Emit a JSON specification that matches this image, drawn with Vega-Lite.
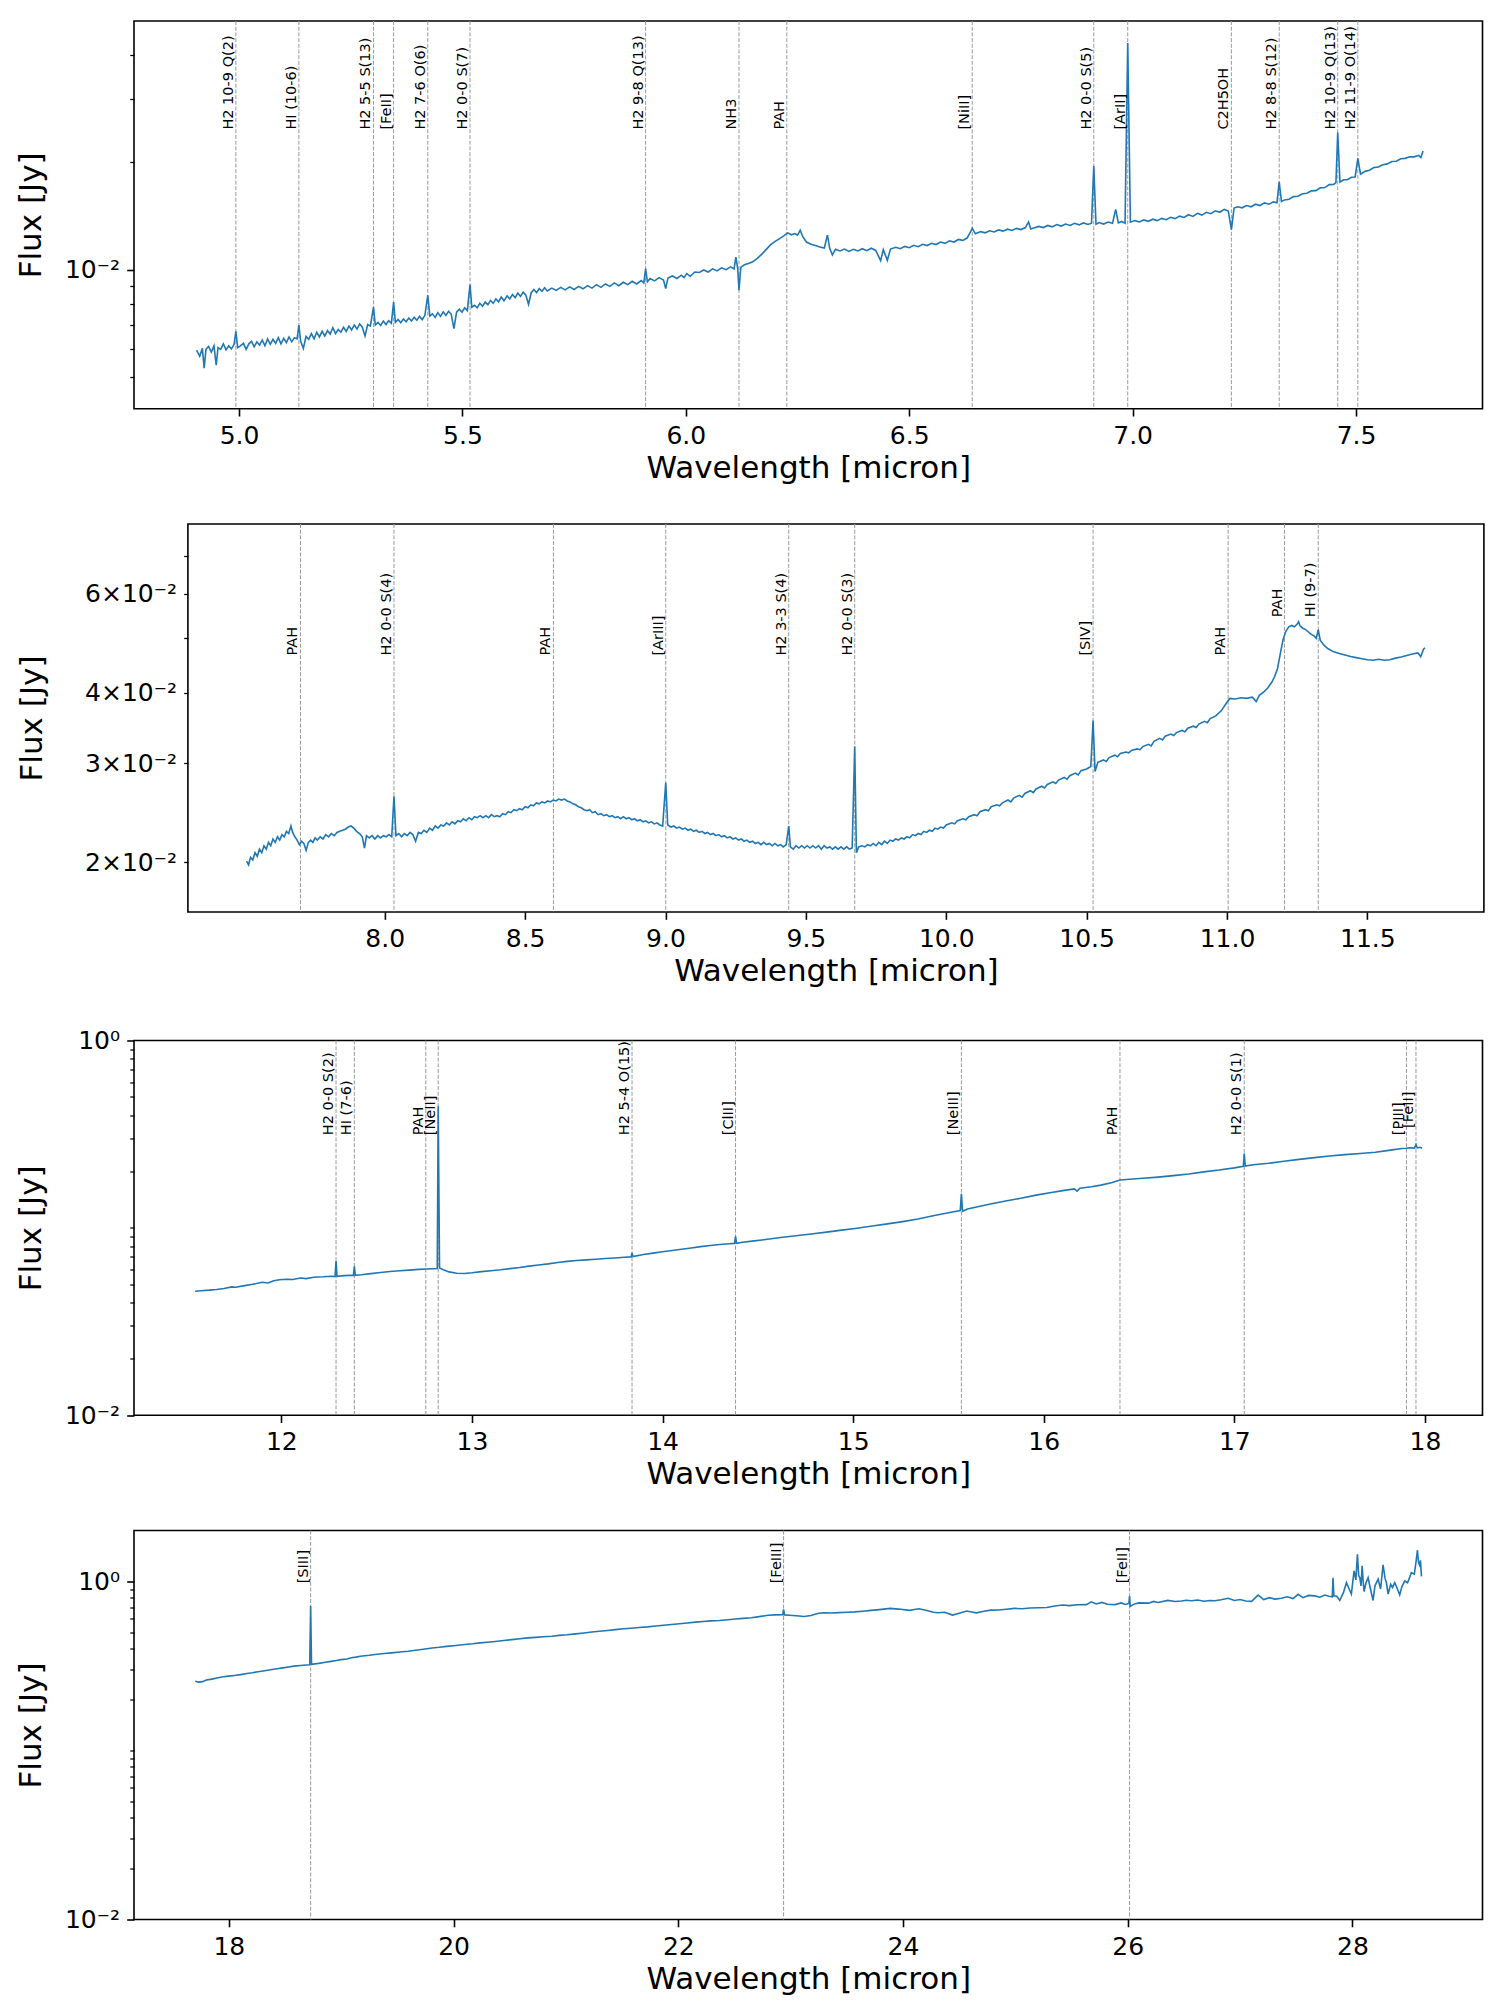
{
  "$schema": "https://vega.github.io/schema/vega-lite/v6.json",
  "background": "white",
  "padding": {"left": 14, "top": 19, "right": 5, "bottom": 5},
  "spacing": 39.5,
  "config": {
    "font": "DejaVu Sans",
    "view": {"stroke": "black", "strokeWidth": 1.6},
    "axis": {
      "domain": false, "grid": false,
      "labelFont": "DejaVu Sans", "titleFont": "DejaVu Sans",
      "labelFontSize": 25, "titleFontSize": 31, "titleFontWeight": "normal",
      "labelColor": "black", "titleColor": "black",
      "tickColor": "black", "tickWidth": 1.6, "tickSize": 7.3,
      "labelPadding": 7.2, "labelOverlap": false, "labelFlush": false
    },
    "axisX": {"titlePadding": 5},
    "axisY": {"titlePadding": 10}
  },
  "datasets": {
    "p1": [
      {"w":4.905,"f":0.00595},{"w":4.912,"f":0.00572},{"w":4.918,"f":0.00602},{"w":4.922,"f":0.0053},{"w":4.926,"f":0.00598},{"w":4.932,"f":0.0061},{"w":4.938,"f":0.00588},{"w":4.944,"f":0.00612},{"w":4.949,"f":0.0054},{"w":4.953,"f":0.00605},{"w":4.959,"f":0.00598},{"w":4.965,"f":0.0062},{"w":4.971,"f":0.00596},{"w":4.977,"f":0.00612},{"w":4.983,"f":0.006},{"w":4.989,"f":0.00618},{"w":4.993,"f":0.00672},{"w":4.997,"f":0.00605},
      {"w":5.003,"f":0.00612},{"w":5.01,"f":0.00622},{"w":5.016,"f":0.00598},{"w":5.022,"f":0.0062},{"w":5.028,"f":0.0063},{"w":5.034,"f":0.00608},{"w":5.04,"f":0.00628},{"w":5.046,"f":0.00615},{"w":5.052,"f":0.00635},{"w":5.058,"f":0.00612},{"w":5.064,"f":0.0064},{"w":5.07,"f":0.00618},{"w":5.076,"f":0.00638},{"w":5.082,"f":0.00622},{"w":5.088,"f":0.00645},{"w":5.094,"f":0.0062},{"w":5.1,"f":0.00642},{"w":5.106,"f":0.00625},{"w":5.112,"f":0.00648},{"w":5.118,"f":0.00628},{"w":5.124,"f":0.00645},{"w":5.13,"f":0.0064},{"w":5.134,"f":0.007},{"w":5.138,"f":0.0063},{"w":5.144,"f":0.00602},{"w":5.15,"f":0.0065},{"w":5.156,"f":0.00638},{"w":5.162,"f":0.00662},{"w":5.168,"f":0.0064},{"w":5.174,"f":0.00668},{"w":5.18,"f":0.00648},{"w":5.186,"f":0.00672},{"w":5.192,"f":0.00652},{"w":5.198,"f":0.00675},
      {"w":5.204,"f":0.0066},{"w":5.21,"f":0.00688},{"w":5.216,"f":0.00662},{"w":5.222,"f":0.0068},{"w":5.228,"f":0.00668},{"w":5.234,"f":0.0069},{"w":5.24,"f":0.00672},{"w":5.246,"f":0.00695},{"w":5.252,"f":0.00678},{"w":5.258,"f":0.007},{"w":5.264,"f":0.00682},{"w":5.27,"f":0.00705},{"w":5.276,"f":0.0069},{"w":5.282,"f":0.00652},{"w":5.288,"f":0.00702},{"w":5.294,"f":0.00695},{"w":5.301,"f":0.00786},{"w":5.305,"f":0.007},{"w":5.311,"f":0.00712},{"w":5.317,"f":0.00698},{"w":5.323,"f":0.00718},{"w":5.329,"f":0.00702},{"w":5.335,"f":0.0072},{"w":5.341,"f":0.00708},{"w":5.346,"f":0.00812},{"w":5.35,"f":0.00712},{"w":5.356,"f":0.00725},{"w":5.362,"f":0.0071},{"w":5.368,"f":0.00728},{"w":5.374,"f":0.00715},{"w":5.38,"f":0.00732},{"w":5.386,"f":0.00718},{"w":5.392,"f":0.00736},{"w":5.398,"f":0.00722},
      {"w":5.404,"f":0.0074},{"w":5.41,"f":0.00725},{"w":5.416,"f":0.00745},{"w":5.4225,"f":0.00848},{"w":5.427,"f":0.00742},{"w":5.433,"f":0.00752},{"w":5.439,"f":0.00735},{"w":5.445,"f":0.00758},{"w":5.451,"f":0.0074},{"w":5.457,"f":0.00762},{"w":5.463,"f":0.00745},{"w":5.469,"f":0.00765},{"w":5.475,"f":0.0075},{"w":5.481,"f":0.00684},{"w":5.487,"f":0.0076},{"w":5.493,"f":0.00775},{"w":5.499,"f":0.0076},{"w":5.505,"f":0.00782},{"w":5.511,"f":0.00768},{"w":5.517,"f":0.00908},{"w":5.521,"f":0.00785},{"w":5.527,"f":0.00795},{"w":5.533,"f":0.00782},{"w":5.539,"f":0.00805},{"w":5.545,"f":0.0079},{"w":5.551,"f":0.00812},{"w":5.557,"f":0.00798},{"w":5.563,"f":0.0082},{"w":5.569,"f":0.00805},{"w":5.575,"f":0.00828},{"w":5.581,"f":0.00812},{"w":5.587,"f":0.00838},{"w":5.593,"f":0.00818},
      {"w":5.6,"f":0.00845},{"w":5.606,"f":0.00828},{"w":5.612,"f":0.00852},{"w":5.618,"f":0.00835},{"w":5.624,"f":0.0086},{"w":5.63,"f":0.00842},{"w":5.636,"f":0.00865},{"w":5.642,"f":0.00848},{"w":5.648,"f":0.008},{"w":5.654,"f":0.00862},{"w":5.66,"f":0.0088},{"w":5.666,"f":0.00862},{"w":5.672,"f":0.00885},{"w":5.678,"f":0.0087},{"w":5.684,"f":0.0089},{"w":5.69,"f":0.00872},{"w":5.7,"f":0.00888},{"w":5.71,"f":0.00875},{"w":5.72,"f":0.00892},{"w":5.73,"f":0.00878},{"w":5.74,"f":0.00895},{"w":5.75,"f":0.0088},{"w":5.76,"f":0.00898},{"w":5.77,"f":0.00884},{"w":5.78,"f":0.00902},{"w":5.79,"f":0.00888},
      {"w":5.8,"f":0.00908},{"w":5.81,"f":0.00892},{"w":5.82,"f":0.00912},{"w":5.83,"f":0.00898},{"w":5.84,"f":0.00918},{"w":5.85,"f":0.00902},{"w":5.86,"f":0.00922},{"w":5.87,"f":0.00908},{"w":5.88,"f":0.00928},{"w":5.89,"f":0.00912},{"w":5.9,"f":0.00932},{"w":5.906,"f":0.00918},{"w":5.91,"f":0.01007},{"w":5.914,"f":0.00925},{"w":5.92,"f":0.00945},{"w":5.93,"f":0.0093},{"w":5.94,"f":0.0095},{"w":5.95,"f":0.00935},{"w":5.955,"f":0.00885},{"w":5.96,"f":0.00948},{"w":5.97,"f":0.0096},{"w":5.98,"f":0.00945},{"w":5.99,"f":0.00965},{"w":5.996,"f":0.0095},
      {"w":6.002,"f":0.00975},{"w":6.01,"f":0.00958},{"w":6.02,"f":0.00985},{"w":6.03,"f":0.00982},{"w":6.04,"f":0.00998},{"w":6.05,"f":0.00985},{"w":6.06,"f":0.01005},{"w":6.07,"f":0.00992},{"w":6.08,"f":0.01012},{"w":6.09,"f":0.01},{"w":6.1,"f":0.01018},{"w":6.108,"f":0.01005},{"w":6.112,"f":0.01085},{"w":6.116,"f":0.0101},{"w":6.119,"f":0.00876},{"w":6.123,"f":0.01015},{"w":6.131,"f":0.01032},{"w":6.14,"f":0.0104},{"w":6.15,"f":0.01052},{"w":6.16,"f":0.01075},{"w":6.17,"f":0.01105},{"w":6.18,"f":0.0114},{"w":6.19,"f":0.01175},
      {"w":6.2,"f":0.012},{"w":6.21,"f":0.01222},{"w":6.22,"f":0.01245},{"w":6.228,"f":0.01268},{"w":6.236,"f":0.01252},{"w":6.244,"f":0.01262},{"w":6.25,"f":0.0125},{"w":6.256,"f":0.0129},{"w":6.262,"f":0.01235},{"w":6.27,"f":0.01195},{"w":6.28,"f":0.01178},{"w":6.29,"f":0.01168},{"w":6.3,"f":0.01158},{"w":6.31,"f":0.0115},{"w":6.317,"f":0.0125},{"w":6.322,"f":0.01148},{"w":6.328,"f":0.011},{"w":6.335,"f":0.0114},{"w":6.345,"f":0.01128},{"w":6.355,"f":0.01142},{"w":6.365,"f":0.01125},{"w":6.375,"f":0.0114},{"w":6.385,"f":0.01128},{"w":6.395,"f":0.01145},
      {"w":6.405,"f":0.0113},{"w":6.415,"f":0.01148},{"w":6.425,"f":0.01132},{"w":6.436,"f":0.0106},{"w":6.442,"f":0.01138},{"w":6.451,"f":0.01062},{"w":6.458,"f":0.01142},{"w":6.47,"f":0.01155},{"w":6.48,"f":0.01145},{"w":6.49,"f":0.01162},{"w":6.5,"f":0.01152},{"w":6.51,"f":0.0117},{"w":6.52,"f":0.0116},{"w":6.53,"f":0.01178},{"w":6.54,"f":0.01168},{"w":6.55,"f":0.01185},{"w":6.56,"f":0.01176},{"w":6.57,"f":0.01195},{"w":6.58,"f":0.01185},{"w":6.59,"f":0.01205},
      {"w":6.6,"f":0.01195},{"w":6.61,"f":0.01215},{"w":6.62,"f":0.01208},{"w":6.63,"f":0.01228},{"w":6.641,"f":0.01305},{"w":6.648,"f":0.0126},{"w":6.66,"f":0.01278},{"w":6.67,"f":0.01268},{"w":6.68,"f":0.01285},{"w":6.69,"f":0.01275},{"w":6.7,"f":0.01292},{"w":6.71,"f":0.01282},{"w":6.72,"f":0.01298},{"w":6.73,"f":0.01288},{"w":6.74,"f":0.01305},{"w":6.75,"f":0.01295},{"w":6.76,"f":0.01312},{"w":6.767,"f":0.0136},{"w":6.772,"f":0.013},{"w":6.78,"f":0.0131},{"w":6.79,"f":0.01322},
      {"w":6.8,"f":0.01312},{"w":6.81,"f":0.0133},{"w":6.82,"f":0.01318},{"w":6.83,"f":0.01338},{"w":6.84,"f":0.01325},{"w":6.85,"f":0.01342},{"w":6.86,"f":0.0133},{"w":6.87,"f":0.01348},{"w":6.88,"f":0.01335},{"w":6.89,"f":0.01352},{"w":6.9,"f":0.01338},{"w":6.908,"f":0.0135},{"w":6.913,"f":0.0195},{"w":6.918,"f":0.0134},{"w":6.925,"f":0.01355},{"w":6.935,"f":0.01342},{"w":6.945,"f":0.0136},{"w":6.955,"f":0.01348},{"w":6.962,"f":0.01475},{"w":6.968,"f":0.01352},{"w":6.975,"f":0.01365},{"w":6.983,"f":0.0135},{"w":6.989,"f":0.0431},{"w":6.995,"f":0.01358},
      {"w":7.005,"f":0.01372},{"w":7.015,"f":0.0136},{"w":7.025,"f":0.01378},{"w":7.035,"f":0.01366},{"w":7.045,"f":0.01385},{"w":7.055,"f":0.01372},{"w":7.065,"f":0.01392},{"w":7.075,"f":0.0138},{"w":7.085,"f":0.01402},{"w":7.095,"f":0.0139},{"w":7.105,"f":0.01412},{"w":7.115,"f":0.014},{"w":7.125,"f":0.01425},{"w":7.135,"f":0.0141},{"w":7.145,"f":0.01438},{"w":7.155,"f":0.01422},{"w":7.165,"f":0.01448},{"w":7.175,"f":0.01435},{"w":7.185,"f":0.01462},{"w":7.195,"f":0.01448},
      {"w":7.205,"f":0.01475},{"w":7.214,"f":0.0146},{"w":7.221,"f":0.01295},{"w":7.227,"f":0.01488},{"w":7.235,"f":0.015},{"w":7.245,"f":0.0149},{"w":7.255,"f":0.01512},{"w":7.265,"f":0.015},{"w":7.275,"f":0.01525},{"w":7.285,"f":0.01512},{"w":7.295,"f":0.01538},{"w":7.305,"f":0.01525},{"w":7.315,"f":0.01548},{"w":7.323,"f":0.0154},{"w":7.328,"f":0.01761},{"w":7.333,"f":0.01552},{"w":7.34,"f":0.01568},{"w":7.35,"f":0.01575},{"w":7.36,"f":0.01602},{"w":7.37,"f":0.01605},{"w":7.38,"f":0.01632},{"w":7.39,"f":0.01636},
      {"w":7.4,"f":0.01662},{"w":7.41,"f":0.01665},{"w":7.42,"f":0.01695},{"w":7.43,"f":0.01698},{"w":7.44,"f":0.0173},{"w":7.45,"f":0.01732},{"w":7.455,"f":0.01752},{"w":7.459,"f":0.0242},{"w":7.464,"f":0.01758},{"w":7.472,"f":0.01785},{"w":7.48,"f":0.01786},{"w":7.49,"f":0.01815},{"w":7.498,"f":0.01818},{"w":7.504,"f":0.0205},{"w":7.51,"f":0.01852},{"w":7.52,"f":0.01885},{"w":7.53,"f":0.01898},{"w":7.54,"f":0.01932},{"w":7.55,"f":0.01938},{"w":7.56,"f":0.01968},{"w":7.57,"f":0.01978},{"w":7.58,"f":0.02008},{"w":7.59,"f":0.02012},
      {"w":7.6,"f":0.02045},{"w":7.61,"f":0.0205},{"w":7.62,"f":0.02072},{"w":7.63,"f":0.0207},{"w":7.64,"f":0.0209},{"w":7.645,"f":0.0206},{"w":7.65,"f":0.0215}
    ],
    "l1": [
      {"w":4.993,"f":0.02467,"t":"H2 10-9 Q(2)"},{"w":5.134,"f":0.02467,"t":"HI (10-6)"},{"w":5.301,"f":0.02467,"t":"H2 5-5 S(13)"},{"w":5.346,"f":0.02467,"t":"[FeII]"},{"w":5.4225,"f":0.02467,"t":"H2 7-6 O(6)"},{"w":5.517,"f":0.02467,"t":"H2 0-0 S(7)"},{"w":5.91,"f":0.02467,"t":"H2 9-8 Q(13)"},{"w":6.119,"f":0.02467,"t":"NH3"},{"w":6.226,"f":0.02467,"t":"PAH"},{"w":6.641,"f":0.02467,"t":"[NiII]"},{"w":6.913,"f":0.02467,"t":"H2 0-0 S(5)"},{"w":6.989,"f":0.02467,"t":"[ArII]"},{"w":7.221,"f":0.02467,"t":"C2H5OH"},{"w":7.328,"f":0.02467,"t":"H2 8-8 S(12)"},{"w":7.459,"f":0.02467,"t":"H2 10-9 Q(13)"},{"w":7.504,"f":0.02467,"t":"H2 11-9 O(14)"}
    ],
    "p2": [
      {"w":7.508,"f":0.0201},{"w":7.515,"f":0.0198},{"w":7.522,"f":0.0204},{"w":7.53,"f":0.0202},{"w":7.538,"f":0.0208},{"w":7.546,"f":0.0205},{"w":7.554,"f":0.0211},{"w":7.562,"f":0.0208},{"w":7.57,"f":0.0214},{"w":7.578,"f":0.0211},{"w":7.586,"f":0.0217},{"w":7.594,"f":0.0214},{"w":7.602,"f":0.022},{"w":7.61,"f":0.0217},{"w":7.618,"f":0.0222},{"w":7.626,"f":0.0219},{"w":7.634,"f":0.0224},{"w":7.642,"f":0.0222},{"w":7.65,"f":0.0227},{"w":7.658,"f":0.0225},{"w":7.666,"f":0.0232},{"w":7.672,"f":0.0226},{"w":7.68,"f":0.0222},{"w":7.688,"f":0.0219},{"w":7.696,"f":0.0215},
      {"w":7.704,"f":0.0218},{"w":7.712,"f":0.0216},{"w":7.72,"f":0.021},{"w":7.728,"f":0.0217},{"w":7.736,"f":0.0219},{"w":7.744,"f":0.0217},{"w":7.752,"f":0.0221},{"w":7.76,"f":0.0219},{"w":7.77,"f":0.0222},{"w":7.78,"f":0.022},{"w":7.79,"f":0.0224},{"w":7.8,"f":0.0222},{"w":7.81,"f":0.0225},{"w":7.82,"f":0.0223},{"w":7.83,"f":0.0226},{"w":7.84,"f":0.0227},{"w":7.85,"f":0.0228},{"w":7.86,"f":0.0229},{"w":7.87,"f":0.0231},{"w":7.88,"f":0.0232},{"w":7.89,"f":0.023},{"w":7.9,"f":0.0227},{"w":7.91,"f":0.0225},{"w":7.92,"f":0.0222},{"w":7.928,"f":0.0212},{"w":7.935,"f":0.0223},{"w":7.945,"f":0.0221},{"w":7.955,"f":0.0223},{"w":7.965,"f":0.022},{"w":7.975,"f":0.0223},{"w":7.985,"f":0.0221},{"w":7.995,"f":0.0223},
      {"w":8.005,"f":0.0222},{"w":8.015,"f":0.0224},{"w":8.025,"f":0.0222},{"w":8.033,"f":0.0262},{"w":8.04,"f":0.0223},{"w":8.05,"f":0.0225},{"w":8.06,"f":0.0222},{"w":8.07,"f":0.0225},{"w":8.08,"f":0.0223},{"w":8.09,"f":0.0226},{"w":8.1,"f":0.0224},{"w":8.11,"f":0.0218},{"w":8.12,"f":0.0226},{"w":8.13,"f":0.0225},{"w":8.14,"f":0.0228},{"w":8.15,"f":0.0226},{"w":8.16,"f":0.023},{"w":8.17,"f":0.0228},{"w":8.18,"f":0.0232},{"w":8.19,"f":0.023},{"w":8.2,"f":0.0233},{"w":8.21,"f":0.0232},{"w":8.22,"f":0.0235},{"w":8.23,"f":0.0233},{"w":8.24,"f":0.0236},{"w":8.25,"f":0.0234},{"w":8.26,"f":0.0237},{"w":8.27,"f":0.0236},{"w":8.28,"f":0.0239},{"w":8.29,"f":0.0237},
      {"w":8.3,"f":0.024},{"w":8.31,"f":0.0238},{"w":8.32,"f":0.0241},{"w":8.33,"f":0.024},{"w":8.34,"f":0.0242},{"w":8.35,"f":0.024},{"w":8.36,"f":0.0242},{"w":8.37,"f":0.024},{"w":8.38,"f":0.0243},{"w":8.39,"f":0.0241},{"w":8.4,"f":0.0242},{"w":8.41,"f":0.0241},{"w":8.42,"f":0.0244},{"w":8.43,"f":0.0243},{"w":8.44,"f":0.0246},{"w":8.45,"f":0.0245},{"w":8.46,"f":0.0248},{"w":8.47,"f":0.0247},{"w":8.48,"f":0.0249},{"w":8.49,"f":0.0248},{"w":8.5,"f":0.0251},{"w":8.51,"f":0.025},{"w":8.52,"f":0.0253},{"w":8.53,"f":0.0252},{"w":8.54,"f":0.0255},{"w":8.55,"f":0.0254},{"w":8.56,"f":0.0256},{"w":8.57,"f":0.0255},{"w":8.58,"f":0.0257},{"w":8.59,"f":0.0256},
      {"w":8.6,"f":0.0258},{"w":8.61,"f":0.0257},{"w":8.62,"f":0.0259},{"w":8.63,"f":0.0258},{"w":8.64,"f":0.0259},{"w":8.65,"f":0.0257},{"w":8.66,"f":0.0256},{"w":8.67,"f":0.0254},{"w":8.68,"f":0.0253},{"w":8.69,"f":0.0251},{"w":8.7,"f":0.025},{"w":8.71,"f":0.0248},{"w":8.72,"f":0.0247},{"w":8.73,"f":0.0248},{"w":8.74,"f":0.0245},{"w":8.75,"f":0.0246},{"w":8.76,"f":0.0243},{"w":8.77,"f":0.0244},{"w":8.78,"f":0.0242},{"w":8.79,"f":0.0243},{"w":8.8,"f":0.0241},{"w":8.81,"f":0.0242},{"w":8.82,"f":0.024},{"w":8.83,"f":0.0241},{"w":8.84,"f":0.0239},{"w":8.85,"f":0.0241},{"w":8.86,"f":0.0239},{"w":8.87,"f":0.024},{"w":8.88,"f":0.0238},{"w":8.89,"f":0.0239},
      {"w":8.9,"f":0.0237},{"w":8.91,"f":0.0238},{"w":8.92,"f":0.0236},{"w":8.93,"f":0.0237},{"w":8.94,"f":0.0235},{"w":8.95,"f":0.0236},{"w":8.96,"f":0.0234},{"w":8.97,"f":0.0235},{"w":8.98,"f":0.0233},{"w":8.99,"f":0.0232},{"w":9.001,"f":0.0277},{"w":9.008,"f":0.0233},{"w":9.02,"f":0.0231},{"w":9.03,"f":0.0232},{"w":9.04,"f":0.023},{"w":9.05,"f":0.0231},{"w":9.06,"f":0.0229},{"w":9.07,"f":0.023},{"w":9.08,"f":0.0228},{"w":9.09,"f":0.0229},{"w":9.1,"f":0.0227},{"w":9.11,"f":0.0228},{"w":9.12,"f":0.0226},{"w":9.13,"f":0.0227},{"w":9.14,"f":0.0225},{"w":9.15,"f":0.0226},{"w":9.16,"f":0.0224},{"w":9.17,"f":0.0225},{"w":9.18,"f":0.0223},{"w":9.19,"f":0.0224},
      {"w":9.2,"f":0.0222},{"w":9.21,"f":0.0223},{"w":9.22,"f":0.0221},{"w":9.23,"f":0.0222},{"w":9.24,"f":0.022},{"w":9.25,"f":0.0221},{"w":9.26,"f":0.0219},{"w":9.27,"f":0.022},{"w":9.28,"f":0.0218},{"w":9.29,"f":0.0219},{"w":9.3,"f":0.0217},{"w":9.31,"f":0.0218},{"w":9.32,"f":0.0216},{"w":9.33,"f":0.0217},{"w":9.34,"f":0.0215},{"w":9.35,"f":0.0217},{"w":9.36,"f":0.0215},{"w":9.37,"f":0.0216},{"w":9.38,"f":0.0214},{"w":9.39,"f":0.0216},{"w":9.4,"f":0.0214},{"w":9.41,"f":0.0215},{"w":9.42,"f":0.0213},{"w":9.43,"f":0.0215},{"w":9.439,"f":0.0232},{"w":9.445,"f":0.0213},{"w":9.455,"f":0.0211},{"w":9.465,"f":0.0214},{"w":9.475,"f":0.0212},{"w":9.485,"f":0.0214},{"w":9.495,"f":0.0212},
      {"w":9.505,"f":0.0214},{"w":9.515,"f":0.0212},{"w":9.525,"f":0.0214},{"w":9.535,"f":0.0212},{"w":9.545,"f":0.0214},{"w":9.555,"f":0.0211},{"w":9.565,"f":0.0214},{"w":9.575,"f":0.0212},{"w":9.585,"f":0.0213},{"w":9.595,"f":0.0211},{"w":9.605,"f":0.0213},{"w":9.615,"f":0.0211},{"w":9.625,"f":0.0213},{"w":9.635,"f":0.0211},{"w":9.645,"f":0.0213},{"w":9.655,"f":0.0211},{"w":9.665,"f":0.0212},{"w":9.674,"f":0.0321},{"w":9.68,"f":0.0208},{"w":9.688,"f":0.0213},{"w":9.7,"f":0.0214},{"w":9.71,"f":0.0213},{"w":9.72,"f":0.0215},{"w":9.73,"f":0.0214},{"w":9.74,"f":0.0216},{"w":9.75,"f":0.0214},{"w":9.76,"f":0.0217},{"w":9.77,"f":0.0215},{"w":9.78,"f":0.0218},{"w":9.79,"f":0.0216},
      {"w":9.8,"f":0.0219},{"w":9.81,"f":0.0218},{"w":9.82,"f":0.022},{"w":9.83,"f":0.0219},{"w":9.84,"f":0.0221},{"w":9.85,"f":0.022},{"w":9.86,"f":0.0222},{"w":9.87,"f":0.0221},{"w":9.88,"f":0.0224},{"w":9.89,"f":0.0223},{"w":9.9,"f":0.0225},{"w":9.91,"f":0.0224},{"w":9.92,"f":0.0227},{"w":9.93,"f":0.0226},{"w":9.94,"f":0.0228},{"w":9.95,"f":0.0227},{"w":9.96,"f":0.023},{"w":9.97,"f":0.0229},{"w":9.98,"f":0.0231},{"w":9.99,"f":0.023},
      {"w":10.0,"f":0.0233},{"w":10.02,"f":0.0235},{"w":10.03,"f":0.0234},{"w":10.04,"f":0.0237},{"w":10.06,"f":0.0239},{"w":10.07,"f":0.0238},{"w":10.08,"f":0.0241},{"w":10.1,"f":0.0243},{"w":10.11,"f":0.0242},{"w":10.12,"f":0.0246},{"w":10.14,"f":0.0248},{"w":10.15,"f":0.0247},{"w":10.16,"f":0.0251},{"w":10.18,"f":0.0253},{"w":10.19,"f":0.0252},{"w":10.2,"f":0.0255},{"w":10.22,"f":0.0258},{"w":10.23,"f":0.0256},{"w":10.24,"f":0.026},{"w":10.26,"f":0.0263},{"w":10.27,"f":0.0261},{"w":10.28,"f":0.0265},{"w":10.3,"f":0.0268},{"w":10.31,"f":0.0266},{"w":10.32,"f":0.027},{"w":10.34,"f":0.0273},{"w":10.35,"f":0.0271},{"w":10.36,"f":0.0275},{"w":10.38,"f":0.0278},{"w":10.39,"f":0.0276},
      {"w":10.4,"f":0.028},{"w":10.42,"f":0.0283},{"w":10.43,"f":0.0281},{"w":10.44,"f":0.0285},{"w":10.46,"f":0.0288},{"w":10.47,"f":0.0286},{"w":10.48,"f":0.0291},{"w":10.5,"f":0.0293},{"w":10.515,"f":0.0296},{"w":10.523,"f":0.0357},{"w":10.53,"f":0.029},{"w":10.54,"f":0.0301},{"w":10.56,"f":0.0304},{"w":10.57,"f":0.0302},{"w":10.58,"f":0.0307},{"w":10.6,"f":0.031},{"w":10.61,"f":0.0308},{"w":10.62,"f":0.0312},{"w":10.64,"f":0.0314},{"w":10.65,"f":0.0313},{"w":10.66,"f":0.0316},{"w":10.68,"f":0.0318},{"w":10.69,"f":0.0317},{"w":10.7,"f":0.0321},{"w":10.72,"f":0.0324},{"w":10.73,"f":0.0322},{"w":10.74,"f":0.0328},{"w":10.76,"f":0.0332},{"w":10.77,"f":0.033},{"w":10.78,"f":0.0335},
      {"w":10.8,"f":0.0338},{"w":10.81,"f":0.0336},{"w":10.82,"f":0.034},{"w":10.84,"f":0.0343},{"w":10.85,"f":0.0341},{"w":10.86,"f":0.0346},{"w":10.88,"f":0.0349},{"w":10.89,"f":0.0347},{"w":10.9,"f":0.0352},{"w":10.92,"f":0.0356},{"w":10.93,"f":0.0354},{"w":10.94,"f":0.036},{"w":10.96,"f":0.0364},{"w":10.98,"f":0.0372},{"w":11.0,"f":0.0385},{"w":11.01,"f":0.0391},{"w":11.03,"f":0.039},{"w":11.05,"f":0.0392},{"w":11.07,"f":0.0391},{"w":11.09,"f":0.0393},{"w":11.104,"f":0.0386},{"w":11.115,"f":0.0396},{"w":11.13,"f":0.0401},{"w":11.145,"f":0.0408},{"w":11.16,"f":0.0418},{"w":11.17,"f":0.0428},{"w":11.18,"f":0.0442},{"w":11.19,"f":0.047},
      {"w":11.2,"f":0.0498},{"w":11.21,"f":0.0515},{"w":11.22,"f":0.0524},{"w":11.23,"f":0.0527},{"w":11.24,"f":0.0524},{"w":11.25,"f":0.053},{"w":11.255,"f":0.0535},{"w":11.26,"f":0.0526},{"w":11.27,"f":0.0521},{"w":11.28,"f":0.0518},{"w":11.29,"f":0.0513},{"w":11.3,"f":0.0508},{"w":11.31,"f":0.0505},{"w":11.318,"f":0.05},{"w":11.325,"f":0.0518},{"w":11.332,"f":0.0496},{"w":11.345,"f":0.0486},{"w":11.36,"f":0.0479},{"w":11.38,"f":0.0473},{"w":11.4,"f":0.047},{"w":11.42,"f":0.0467},{"w":11.44,"f":0.0464},{"w":11.46,"f":0.0462},{"w":11.48,"f":0.046},{"w":11.5,"f":0.0458},{"w":11.52,"f":0.0457},{"w":11.54,"f":0.0459},{"w":11.56,"f":0.0457},{"w":11.58,"f":0.0458},
      {"w":11.6,"f":0.0461},{"w":11.62,"f":0.0463},{"w":11.64,"f":0.0466},{"w":11.66,"f":0.0469},{"w":11.68,"f":0.0471},{"w":11.69,"f":0.0464},{"w":11.7,"f":0.0478},{"w":11.705,"f":0.0481}
    ],
    "l2": [
      {"w":7.7,"f":0.04658,"t":"PAH"},{"w":8.033,"f":0.04658,"t":"H2 0-0 S(4)"},{"w":8.601,"f":0.04658,"t":"PAH"},{"w":9.001,"f":0.04658,"t":"[ArIII]"},{"w":9.439,"f":0.04658,"t":"H2 3-3 S(4)"},{"w":9.674,"f":0.04658,"t":"H2 0-0 S(3)"},{"w":10.523,"f":0.04658,"t":"[SIV]"},{"w":11.004,"f":0.04658,"t":"PAH"},{"w":11.205,"f":0.05447,"t":"PAH"},{"w":11.325,"f":0.05447,"t":"HI (9-7)"}
    ],
    "p3": [
      {"w":11.548,"f":0.0459},{"w":11.58,"f":0.0462},{"w":11.62,"f":0.0465},{"w":11.66,"f":0.0469},{"w":11.7,"f":0.0475},{"w":11.74,"f":0.0484},{"w":11.76,"f":0.0482},{"w":11.8,"f":0.049},{"w":11.85,"f":0.05},{"w":11.9,"f":0.0512},{"w":11.93,"f":0.0508},{"w":11.96,"f":0.0522},{"w":11.99,"f":0.0528},{"w":12.03,"f":0.0532},{"w":12.06,"f":0.053},{"w":12.1,"f":0.054},{"w":12.13,"f":0.0536},{"w":12.17,"f":0.0545},{"w":12.22,"f":0.0548},{"w":12.26,"f":0.0552},{"w":12.282,"f":0.055},{"w":12.287,"f":0.0664},{"w":12.292,"f":0.0551},{"w":12.33,"f":0.0556},{"w":12.37,"f":0.0558},{"w":12.378,"f":0.0556},{"w":12.383,"f":0.0624},{"w":12.388,"f":0.0558},
      {"w":12.42,"f":0.0562},{"w":12.47,"f":0.057},{"w":12.52,"f":0.0578},{"w":12.57,"f":0.0585},{"w":12.62,"f":0.059},{"w":12.67,"f":0.0595},{"w":12.72,"f":0.06},{"w":12.76,"f":0.0603},{"w":12.8,"f":0.0605},{"w":12.818,"f":0.0606},{"w":12.823,"f":0.4459},{"w":12.83,"f":0.061},{"w":12.85,"f":0.0598},{"w":12.88,"f":0.0582},{"w":12.92,"f":0.0572},{"w":12.96,"f":0.0571},{"w":13.0,"f":0.0576},{"w":13.05,"f":0.0584},{"w":13.1,"f":0.059},{"w":13.15,"f":0.0597},{"w":13.2,"f":0.0606},{"w":13.25,"f":0.0614},{"w":13.3,"f":0.0625},{"w":13.35,"f":0.0634},{"w":13.4,"f":0.0642},{"w":13.45,"f":0.0653},{"w":13.5,"f":0.0662},{"w":13.55,"f":0.067},{"w":13.6,"f":0.0675},{"w":13.65,"f":0.068},{"w":13.7,"f":0.0686},{"w":13.75,"f":0.0691},{"w":13.8,"f":0.0697},{"w":13.835,"f":0.07},{"w":13.84,"f":0.0735},{"w":13.845,"f":0.0702},
      {"w":13.9,"f":0.072},{"w":13.95,"f":0.0733},{"w":14.0,"f":0.0745},{"w":14.05,"f":0.0757},{"w":14.1,"f":0.0769},{"w":14.15,"f":0.0781},{"w":14.2,"f":0.0794},{"w":14.25,"f":0.0805},{"w":14.3,"f":0.0815},{"w":14.35,"f":0.0822},{"w":14.378,"f":0.0826},{"w":14.383,"f":0.0902},{"w":14.388,"f":0.0828},{"w":14.42,"f":0.0838},{"w":14.47,"f":0.0849},{"w":14.55,"f":0.0869},{"w":14.62,"f":0.0888},{"w":14.7,"f":0.0908},{"w":14.78,"f":0.0928},{"w":14.86,"f":0.0949},{"w":14.94,"f":0.0972},{"w":15.02,"f":0.0996},{"w":15.1,"f":0.1022},{"w":15.18,"f":0.105},{"w":15.26,"f":0.108},{"w":15.34,"f":0.1115},{"w":15.42,"f":0.116},{"w":15.5,"f":0.1205},{"w":15.562,"f":0.1238},{"w":15.568,"f":0.1518},{"w":15.574,"f":0.1225},
      {"w":15.6,"f":0.126},{"w":15.66,"f":0.13},{"w":15.72,"f":0.134},{"w":15.8,"f":0.139},{"w":15.88,"f":0.144},{"w":15.96,"f":0.1495},{"w":16.04,"f":0.1545},{"w":16.1,"f":0.158},{"w":16.16,"f":0.1615},{"w":16.175,"f":0.157},{"w":16.19,"f":0.1628},{"w":16.25,"f":0.1658},{"w":16.3,"f":0.169},{"w":16.36,"f":0.1745},{"w":16.4,"f":0.18},{"w":16.45,"f":0.1818},{"w":16.52,"f":0.1838},{"w":16.6,"f":0.1865},{"w":16.68,"f":0.19},{"w":16.76,"f":0.194},{"w":16.84,"f":0.199},{"w":16.92,"f":0.2035},{"w":17.0,"f":0.209},{"w":17.047,"f":0.213},{"w":17.052,"f":0.2493},{"w":17.057,"f":0.2135},{"w":17.1,"f":0.217},{"w":17.18,"f":0.221},{"w":17.26,"f":0.2265},{"w":17.34,"f":0.232},{"w":17.42,"f":0.237},{"w":17.5,"f":0.242},{"w":17.58,"f":0.246},{"w":17.66,"f":0.2495},{"w":17.74,"f":0.253},{"w":17.82,"f":0.26},{"w":17.88,"f":0.265},{"w":17.903,"f":0.266},{"w":17.92,"f":0.2675},{"w":17.945,"f":0.2665},{"w":17.953,"f":0.278},{"w":17.96,"f":0.267},{"w":17.975,"f":0.269},{"w":17.985,"f":0.266}
    ],
    "l3": [
      {"w":12.287,"f":0.3122,"t":"H2 0-0 S(2)"},{"w":12.383,"f":0.3122,"t":"HI (7-6)"},{"w":12.758,"f":0.3122,"t":"PAH"},{"w":12.823,"f":0.3122,"t":"[NeII]"},{"w":13.84,"f":0.3122,"t":"H2 5-4 O(15)"},{"w":14.383,"f":0.3122,"t":"[ClII]"},{"w":15.568,"f":0.3122,"t":"[NeIII]"},{"w":16.4,"f":0.3122,"t":"PAH"},{"w":17.052,"f":0.3122,"t":"H2 0-0 S(1)"},{"w":17.903,"f":0.3122,"t":"[PIII]"},{"w":17.953,"f":0.3416,"t":"[FeII]"}
    ],
    "p4": [
      {"w":17.701,"f":0.2561},{"w":17.73,"f":0.2535},{"w":17.765,"f":0.2551},{"w":17.8,"f":0.2605},{"w":17.85,"f":0.264},{"w":17.893,"f":0.2679},{"w":17.95,"f":0.2725},{"w":18.0,"f":0.275},{"w":18.05,"f":0.2775},{"w":18.106,"f":0.2805},{"w":18.16,"f":0.285},{"w":18.21,"f":0.288},{"w":18.26,"f":0.292},{"w":18.319,"f":0.2961},{"w":18.37,"f":0.3},{"w":18.43,"f":0.304},{"w":18.48,"f":0.3075},{"w":18.532,"f":0.3112},{"w":18.58,"f":0.315},{"w":18.64,"f":0.3175},{"w":18.69,"f":0.32},{"w":18.72,"f":0.321},{"w":18.728,"f":0.7136},{"w":18.736,"f":0.3225},{"w":18.8,"f":0.327},{"w":18.86,"f":0.332},{"w":18.91,"f":0.336},{"w":18.957,"f":0.3398},
      {"w":19.0,"f":0.344},{"w":19.05,"f":0.347},{"w":19.09,"f":0.353},{"w":19.13,"f":0.356},{"w":19.17,"f":0.3602},{"w":19.25,"f":0.365},{"w":19.3,"f":0.369},{"w":19.383,"f":0.3738},{"w":19.45,"f":0.3775},{"w":19.52,"f":0.3815},{"w":19.596,"f":0.3858},{"w":19.66,"f":0.391},{"w":19.73,"f":0.3965},{"w":19.809,"f":0.4036},{"w":19.87,"f":0.407},{"w":19.94,"f":0.412},{"w":20.02,"f":0.417},{"w":20.1,"f":0.4225},{"w":20.17,"f":0.427},{"w":20.235,"f":0.4323},{"w":20.3,"f":0.436},{"w":20.37,"f":0.441},{"w":20.448,"f":0.4466},{"w":20.52,"f":0.452},{"w":20.59,"f":0.457},{"w":20.661,"f":0.463},{"w":20.73,"f":0.466},{"w":20.8,"f":0.47},{"w":20.874,"f":0.4735},{"w":20.94,"f":0.479},
      {"w":21.01,"f":0.483},{"w":21.087,"f":0.4888},{"w":21.16,"f":0.495},{"w":21.23,"f":0.501},{"w":21.3,"f":0.507},{"w":21.37,"f":0.512},{"w":21.44,"f":0.518},{"w":21.513,"f":0.5235},{"w":21.58,"f":0.528},{"w":21.65,"f":0.533},{"w":21.726,"f":0.5377},{"w":21.8,"f":0.544},{"w":21.87,"f":0.55},{"w":21.939,"f":0.5555},{"w":22.01,"f":0.561},{"w":22.08,"f":0.567},{"w":22.152,"f":0.5734},{"w":22.22,"f":0.578},{"w":22.29,"f":0.583},{"w":22.365,"f":0.5868},{"w":22.44,"f":0.593},{"w":22.51,"f":0.598},{"w":22.578,"f":0.6032},{"w":22.65,"f":0.6081},{"w":22.72,"f":0.618},{"w":22.8,"f":0.63},{"w":22.86,"f":0.633},{"w":22.93,"f":0.634},{"w":22.937,"f":0.6821},{"w":22.945,"f":0.633},{"w":22.99,"f":0.63},
      {"w":23.05,"f":0.625},{"w":23.12,"f":0.6186},{"w":23.18,"f":0.628},{"w":23.24,"f":0.645},{"w":23.29,"f":0.651},{"w":23.36,"f":0.65},{"w":23.43,"f":0.653},{"w":23.503,"f":0.6555},{"w":23.57,"f":0.659},{"w":23.64,"f":0.665},{"w":23.716,"f":0.6729},{"w":23.79,"f":0.68},{"w":23.886,"f":0.6915},{"w":23.96,"f":0.685},{"w":24.057,"f":0.6729},{"w":24.1,"f":0.681},{"w":24.142,"f":0.688},{"w":24.22,"f":0.67},{"w":24.27,"f":0.656},{"w":24.312,"f":0.651},{"w":24.37,"f":0.656},{"w":24.44,"f":0.631},{"w":24.5,"f":0.648},{"w":24.568,"f":0.667},{"w":24.61,"f":0.659},{"w":24.653,"f":0.651},{"w":24.72,"f":0.665},{"w":24.781,"f":0.6755},{"w":24.85,"f":0.676},{"w":24.92,"f":0.683},{"w":24.993,"f":0.6915},
      {"w":25.06,"f":0.688},{"w":25.13,"f":0.695},{"w":25.207,"f":0.697},{"w":25.28,"f":0.7},{"w":25.35,"f":0.715},{"w":25.42,"f":0.7236},{"w":25.48,"f":0.718},{"w":25.55,"f":0.726},{"w":25.632,"f":0.7282},{"w":25.675,"f":0.7566},{"w":25.72,"f":0.735},{"w":25.77,"f":0.75},{"w":25.82,"f":0.732},{"w":25.888,"f":0.7282},{"w":25.94,"f":0.745},{"w":25.98,"f":0.73},{"w":26.01,"f":0.74},{"w":26.016,"f":0.8181},{"w":26.022,"f":0.71},{"w":26.06,"f":0.735},{"w":26.1,"f":0.745},{"w":26.186,"f":0.7424},{"w":26.23,"f":0.76},{"w":26.27,"f":0.75},{"w":26.356,"f":0.7714},{"w":26.42,"f":0.76},{"w":26.478,"f":0.764},{"w":26.52,"f":0.772},{"w":26.569,"f":0.7667},{"w":26.62,"f":0.775},{"w":26.68,"f":0.762},{"w":26.73,"f":0.77},{"w":26.775,"f":0.767},{"w":26.83,"f":0.778},{"w":26.894,"f":0.793},{"w":26.95,"f":0.77},
      {"w":27.0,"f":0.78},{"w":27.05,"f":0.765},{"w":27.102,"f":0.761},{"w":27.16,"f":0.829},{"w":27.21,"f":0.78},{"w":27.26,"f":0.8},{"w":27.31,"f":0.785},{"w":27.368,"f":0.793},{"w":27.42,"f":0.81},{"w":27.47,"f":0.79},{"w":27.516,"f":0.837},{"w":27.56,"f":0.8},{"w":27.61,"f":0.825},{"w":27.664,"f":0.82},{"w":27.71,"f":0.805},{"w":27.753,"f":0.829},{"w":27.79,"f":0.815},{"w":27.82,"f":0.81},{"w":27.827,"f":1.05},{"w":27.834,"f":0.82},{"w":27.86,"f":0.815},{"w":27.887,"f":0.77},{"w":27.92,"f":0.86},{"w":27.946,"f":0.981},{"w":27.97,"f":0.9},{"w":27.99,"f":0.84},
      {"w":28.014,"f":1.151},{"w":28.03,"f":1.02},{"w":28.044,"f":1.446},{"w":28.055,"f":1.08},{"w":28.065,"f":1.05},{"w":28.076,"f":0.94},{"w":28.086,"f":1.233},{"w":28.095,"f":1.0},{"w":28.103,"f":0.87},{"w":28.12,"f":0.98},{"w":28.139,"f":1.05},{"w":28.16,"f":0.9},{"w":28.183,"f":0.77},{"w":28.2,"f":0.94},{"w":28.228,"f":1.03},{"w":28.25,"f":0.9},{"w":28.272,"f":1.25},{"w":28.29,"f":1.04},{"w":28.302,"f":0.98},{"w":28.317,"f":0.84},{"w":28.34,"f":0.96},{"w":28.356,"f":0.92},{"w":28.376,"f":0.98},{"w":28.4,"f":0.9},{"w":28.42,"f":0.83},{"w":28.44,"f":0.93},{"w":28.465,"f":1.004},{"w":28.49,"f":0.98},{"w":28.51,"f":1.06},{"w":28.524,"f":1.125},{"w":28.55,"f":1.1},{"w":28.565,"f":1.3},{"w":28.578,"f":1.527},{"w":28.587,"f":1.3},{"w":28.596,"f":1.25},{"w":28.605,"f":1.33},{"w":28.614,"f":1.07}
    ],
    "l4": [
      {"w":18.728,"f":0.973,"t":"[SIII]"},{"w":22.937,"f":0.973,"t":"[FeIII]"},{"w":26.016,"f":0.973,"t":"[FeII]"}
    ]
  },
  "vconcat": [
    {
      "spacing": 38,
      "vconcat": [
        {
          "width": 1348.5, "height": 387.7,
          "layer": [
            {
              "data": {"name": "l1"},
              "mark": {"type": "rule", "color": "#9a9a9a", "strokeWidth": 1, "strokeDash": [4, 1.7]},
              "encoding": {"x": {"field": "w", "type": "quantitative", "scale": {"domain": [4.765, 7.783], "nice": false, "zero": false}}}
            },
            {
              "data": {"name": "p1"},
              "mark": {"type": "line", "color": "#1f77b4", "strokeWidth": 1.6},
              "encoding": {
                "x": {"field": "w", "type": "quantitative", "scale": {"domain": [4.765, 7.783], "nice": false, "zero": false},
                      "axis": {"title": "Wavelength [micron]", "values": [5, 5.5, 6, 6.5, 7, 7.5], "format": ".1f"}},
                "y": {"field": "f", "type": "quantitative", "scale": {"type": "log", "domain": [0.00408, 0.0497], "nice": false},
                      "axis": {"title": "Flux [Jy]", "values": [0.005, 0.006, 0.007, 0.008, 0.009, 0.01, 0.02, 0.03, 0.04],
                               "labelExpr": "datum.value == 0.01 ? '10⁻²' : ''",
                               "tickSize": {"condition": {"test": "datum.value == 0.01", "value": 7.3}, "value": 4.2},
                               "tickWidth": {"condition": {"test": "datum.value == 0.01", "value": 1.6}, "value": 1.25},
                               "minExtent": 76.7, "maxExtent": 76.7}}
              }
            },
            {
              "data": {"name": "l1"},
              "mark": {"type": "text", "angle": 270, "align": "left", "baseline": "bottom", "font": "DejaVu Sans", "fontSize": 14.5, "color": "black"},
              "encoding": {
                "x": {"field": "w", "type": "quantitative", "scale": {"domain": [4.765, 7.783], "nice": false, "zero": false}},
                "y": {"field": "f", "type": "quantitative", "scale": {"type": "log", "domain": [0.00408, 0.0497], "nice": false}},
                "text": {"field": "t"}
              }
            }
          ]
        },
        {
          "spacing": -119.1,
          "hconcat": [
            {
              "width": 1, "height": 1,
              "view": {"stroke": null},
              "data": {"values": []},
              "mark": {"type": "point", "opacity": 0},
              "encoding": {}
            },
            {
              "width": 1296, "height": 388,
              "layer": [
                {
                  "data": {"name": "l2"},
                  "mark": {"type": "rule", "color": "#9a9a9a", "strokeWidth": 1, "strokeDash": [4, 1.7]},
                  "encoding": {"x": {"field": "w", "type": "quantitative", "scale": {"domain": [7.299, 11.915], "nice": false, "zero": false}}}
                },
                {
                  "data": {"name": "p2"},
                  "mark": {"type": "line", "color": "#1f77b4", "strokeWidth": 1.6},
                  "encoding": {
                    "x": {"field": "w", "type": "quantitative", "scale": {"domain": [7.299, 11.915], "nice": false, "zero": false},
                          "axis": {"title": "Wavelength [micron]", "values": [8, 8.5, 9, 9.5, 10, 10.5, 11, 11.5], "format": ".1f"}},
                    "y": {"field": "f", "type": "quantitative", "scale": {"type": "log", "domain": [0.01632, 0.0798], "nice": false},
                          "axis": {"title": "Flux [Jy]", "values": [0.02, 0.03, 0.04, 0.05, 0.06, 0.07],
                                   "labelExpr": "datum.value == 0.02 ? '2×10⁻²' : datum.value == 0.03 ? '3×10⁻²' : datum.value == 0.04 ? '4×10⁻²' : datum.value == 0.06 ? '6×10⁻²' : ''",
                                   "tickSize": 4.2, "tickWidth": 1.25,
                                   "minExtent": 129.2, "maxExtent": 129.2}}
                  }
                },
                {
                  "data": {"name": "l2"},
                  "mark": {"type": "text", "angle": 270, "align": "left", "baseline": "bottom", "font": "DejaVu Sans", "fontSize": 14.5, "color": "black"},
                  "encoding": {
                    "x": {"field": "w", "type": "quantitative", "scale": {"domain": [7.299, 11.915], "nice": false, "zero": false}},
                    "y": {"field": "f", "type": "quantitative", "scale": {"type": "log", "domain": [0.01632, 0.0798], "nice": false}},
                    "text": {"field": "t"}
                  }
                }
              ]
            }
          ]
        }
      ]
    },
    {
      "spacing": 38,
      "vconcat": [
        {
          "width": 1348.5, "height": 374.7,
          "layer": [
            {
              "data": {"name": "l3"},
              "mark": {"type": "rule", "color": "#9a9a9a", "strokeWidth": 1, "strokeDash": [4, 1.7]},
              "encoding": {"x": {"field": "w", "type": "quantitative", "scale": {"domain": [11.227, 18.302], "nice": false, "zero": false}}}
            },
            {
              "data": {"name": "p3"},
              "mark": {"type": "line", "color": "#1f77b4", "strokeWidth": 1.6},
              "encoding": {
                "x": {"field": "w", "type": "quantitative", "scale": {"domain": [11.227, 18.302], "nice": false, "zero": false},
                      "axis": {"title": "Wavelength [micron]", "values": [12, 13, 14, 15, 16, 17, 18], "format": "d"}},
                "y": {"field": "f", "type": "quantitative", "scale": {"type": "log", "domain": [0.01, 1], "nice": false},
                      "axis": {"title": "Flux [Jy]",
                               "values": [0.01, 0.02, 0.03, 0.04, 0.05, 0.06, 0.07, 0.08, 0.09, 0.1, 0.2, 0.3, 0.4, 0.5, 0.6, 0.7, 0.8, 0.9, 1],
                               "labelExpr": "datum.value == 1 ? '10⁰' : datum.value == 0.01 ? '10⁻²' : ''",
                               "tickSize": {"condition": {"test": "datum.value == 0.01 || datum.value == 1", "value": 7.3}, "value": 4.2},
                               "tickWidth": {"condition": {"test": "datum.value == 0.01 || datum.value == 1", "value": 1.6}, "value": 1.25},
                               "minExtent": 76.7, "maxExtent": 76.7}}
              }
            },
            {
              "data": {"name": "l3"},
              "mark": {"type": "text", "angle": 270, "align": "left", "baseline": "bottom", "font": "DejaVu Sans", "fontSize": 14.5, "color": "black"},
              "encoding": {
                "x": {"field": "w", "type": "quantitative", "scale": {"domain": [11.227, 18.302], "nice": false, "zero": false}},
                "y": {"field": "f", "type": "quantitative", "scale": {"type": "log", "domain": [0.01, 1], "nice": false}},
                "text": {"field": "t"}
              }
            }
          ]
        },
        {
          "width": 1348.5, "height": 389,
          "layer": [
            {
              "data": {"name": "l4"},
              "mark": {"type": "rule", "color": "#9a9a9a", "strokeWidth": 1, "strokeDash": [4, 1.7]},
              "encoding": {"x": {"field": "w", "type": "quantitative", "scale": {"domain": [17.156, 29.157], "nice": false, "zero": false}}}
            },
            {
              "data": {"name": "p4"},
              "mark": {"type": "line", "color": "#1f77b4", "strokeWidth": 1.6},
              "encoding": {
                "x": {"field": "w", "type": "quantitative", "scale": {"domain": [17.156, 29.157], "nice": false, "zero": false},
                      "axis": {"title": "Wavelength [micron]", "values": [18, 20, 22, 24, 26, 28], "format": "d"}},
                "y": {"field": "f", "type": "quantitative", "scale": {"type": "log", "domain": [0.01, 1.997], "nice": false},
                      "axis": {"title": "Flux [Jy]",
                               "values": [0.01, 0.02, 0.03, 0.04, 0.05, 0.06, 0.07, 0.08, 0.09, 0.1, 0.2, 0.3, 0.4, 0.5, 0.6, 0.7, 0.8, 0.9, 1],
                               "labelExpr": "datum.value == 1 ? '10⁰' : datum.value == 0.01 ? '10⁻²' : ''",
                               "tickSize": {"condition": {"test": "datum.value == 0.01 || datum.value == 1", "value": 7.3}, "value": 4.2},
                               "tickWidth": {"condition": {"test": "datum.value == 0.01 || datum.value == 1", "value": 1.6}, "value": 1.25},
                               "minExtent": 76.7, "maxExtent": 76.7}}
              }
            },
            {
              "data": {"name": "l4"},
              "mark": {"type": "text", "angle": 270, "align": "left", "baseline": "bottom", "font": "DejaVu Sans", "fontSize": 14.5, "color": "black"},
              "encoding": {
                "x": {"field": "w", "type": "quantitative", "scale": {"domain": [17.156, 29.157], "nice": false, "zero": false}},
                "y": {"field": "f", "type": "quantitative", "scale": {"type": "log", "domain": [0.01, 1.997], "nice": false}},
                "text": {"field": "t"}
              }
            }
          ]
        }
      ]
    }
  ]
}
